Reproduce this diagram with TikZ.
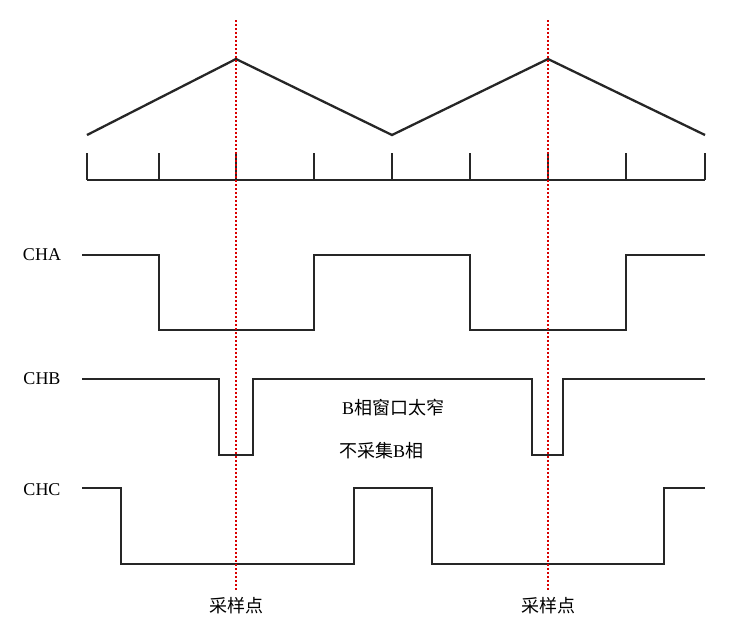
\documentclass[tikz,border=0pt]{standalone}
\usepackage{fontspec}
\setmainfont{Liberation Serif}
\newfontfamily\cjk{Noto Sans CJK SC}
\begin{document}
\begin{tikzpicture}[x=1pt,y=-1pt,
  sig/.style={line width=2.3pt,black!85},
  lbl/.style={font=\fontsize{18}{20}\selectfont,inner sep=0pt},
  cn/.style={font=\fontsize{18}{20}\selectfont,inner sep=0pt},
  samp/.style={red!85!black,line width=1.5pt,dash pattern=on 1.5pt off 2.5pt}]
\useasboundingbox (0,0) rectangle (752,635);
% triangle
\draw[sig] (87,135) -- (236,59) -- (392,135) -- (548,59) -- (705,135);
% axis
\draw[sig] (87,180) -- (705,180);
\foreach \x in {87,159,236,314,392,470,548,626,705}
  \draw[sig] (\x,153) -- (\x,180);
% CHA
\draw[sig] (82,255) -- (159,255) -- (159,330) -- (314,330) -- (314,255) -- (470,255) -- (470,330) -- (626,330) -- (626,255) -- (705,255);
% CHB
\draw[sig] (82,379) -- (219,379) -- (219,455) -- (253,455) -- (253,379) -- (532,379) -- (532,455) -- (563,455) -- (563,379) -- (705,379);
% CHC
\draw[sig] (82,488) -- (121,488) -- (121,564) -- (354,564) -- (354,488) -- (432,488) -- (432,564) -- (664,564) -- (664,488) -- (705,488);
% sample lines
\draw[samp] (236,20) -- (236,590);
\draw[samp] (548,20) -- (548,590);
\node[lbl] (a) at (42,255) {CHA};
\node[lbl] (b) at (42,379) {CHB};
\node[lbl] (c) at (42,490) {CHC};
\node[cn] (t1) at (393,408) {B{\cjk 相窗口太窄}};
\node[cn] (t2) at (381,451) {{\cjk 不采集}B{\cjk 相}};
\node[cn] (s1) at (236,606) {\cjk 采样点};
\node[cn] (s2) at (548,606) {\cjk 采样点};
\end{tikzpicture}
\end{document}
